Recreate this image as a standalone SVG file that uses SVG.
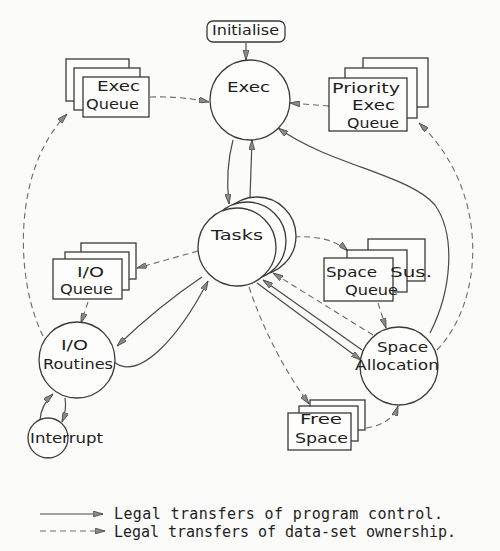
<svg xmlns="http://www.w3.org/2000/svg" width="500" height="551" viewBox="0 0 500 551">
<defs>
<style>
.bg{fill:#fbfbfa}
.nd{fill:#fdfdfc;stroke:#3a3a3a;stroke-width:1.3}
.lb{font-family:"DejaVu Sans","Liberation Sans",sans-serif;font-size:13.5px;fill:#1e1e1e}
.lg{font-family:"DejaVu Sans Mono","Liberation Mono",monospace;font-size:15px;fill:#1e1e1e}
.s{fill:none;stroke:#4a4a4a;stroke-width:1.2;marker-end:url(#a)}
.d{fill:none;stroke:#6a6a6a;stroke-width:1.1;stroke-dasharray:6 4;marker-end:url(#a)}
</style>
<marker id="a" viewBox="0 0 10 6" refX="10" refY="3" markerWidth="10" markerHeight="6" markerUnits="userSpaceOnUse" orient="auto">
<path d="M0,0 L10,3 L0,6 z" fill="#8a8a8a" stroke="#444" stroke-width="0.8"/>
</marker>
</defs>
<rect class="bg" x="0" y="0" width="500" height="551"/>

<g id="connectors">
<path class="s" d="M246,43 L246,60"/>
<path class="d" d="M150,97 Q180,96 209,102"/>
<path class="d" d="M329,106 L290,103"/>
<path class="s" d="M233,140 Q225,170 229,204"/>
<path class="s" d="M250,198 L252,140"/>
<path class="s" d="M430,333 C452,290 456,235 435,205 C410,175 330,165 278,128"/>
<path class="d" d="M43,336 C15,280 12,170 67,114"/>
<path class="d" d="M437,350 C485,300 490,190 419,123"/>
<path class="d" d="M198,251 L137,268"/>
<path class="d" d="M88,302 L81,323"/>
<path class="s" d="M202,277 Q160,305 117,346"/>
<path class="s" d="M114,362 C140,382 180,335 208,281"/>
<path class="d" d="M294,237 Q330,235 348,251"/>
<path class="d" d="M378,303 L386,328"/>
<path class="s" d="M362,350 L263,280"/>
<path class="s" d="M257,283 L361,360"/>
<path class="d" d="M373,335 L273,273"/>
<path class="d" d="M249,287 Q270,350 309,404"/>
<path class="d" d="M366,428 Q392,424 398,406"/>
<path class="s" d="M40,420 Q41,405 53,394"/>
<path class="s" d="M65,398 Q67,410 62,422"/>
<path class="s" d="M40,514 L103,514"/>
<path class="d" d="M40,531 L105,531"/>
</g>

<g id="initialise">
<rect class="nd" x="207" y="21" width="78" height="21" rx="6"/>
<text class="lb" x="212" y="35" textLength="67" lengthAdjust="spacingAndGlyphs">Initialise</text>
</g>

<g id="exec">
<circle class="nd" cx="250" cy="100" r="40"/>
<text class="lb" x="227" y="92" textLength="43" lengthAdjust="spacingAndGlyphs">Exec</text>
</g>

<g id="exec-queue">
<rect class="nd" x="66" y="59" width="63" height="42"/>
<rect class="nd" x="74" y="68" width="66" height="42"/>
<rect class="nd" x="83" y="77" width="66" height="40"/>
<text class="lb" x="97" y="91" textLength="43" lengthAdjust="spacingAndGlyphs">Exec</text>
<text class="lb" x="86" y="109" textLength="53" lengthAdjust="spacingAndGlyphs">Queue</text>
</g>

<g id="priority-exec-queue">
<rect class="nd" x="363" y="58" width="65" height="49"/>
<rect class="nd" x="345" y="68" width="72" height="50"/>
<rect class="nd" x="329" y="78" width="78" height="53"/>
<text class="lb" x="332" y="93" textLength="68" lengthAdjust="spacingAndGlyphs">Priority</text>
<text class="lb" x="352" y="110" textLength="43" lengthAdjust="spacingAndGlyphs">Exec</text>
<text class="lb" x="347" y="128" textLength="52" lengthAdjust="spacingAndGlyphs">Queue</text>
</g>

<g id="tasks">
<circle class="nd" cx="257" cy="236" r="39"/>
<circle class="nd" cx="247" cy="241" r="39"/>
<circle class="nd" cx="237" cy="247" r="39"/>
<text class="lb" x="211" y="240" textLength="52" lengthAdjust="spacingAndGlyphs">Tasks</text>
</g>

<g id="io-queue">
<rect class="nd" x="81" y="243" width="55" height="36"/>
<rect class="nd" x="65" y="252" width="64" height="38"/>
<rect class="nd" x="53" y="259" width="69" height="40"/>
<text class="lb" x="77" y="277" textLength="27" lengthAdjust="spacingAndGlyphs">I/O</text>
<text class="lb" x="60" y="294" textLength="53" lengthAdjust="spacingAndGlyphs">Queue</text>
</g>

<g id="io-routines">
<circle class="nd" cx="77" cy="360" r="38"/>
<text class="lb" x="61" y="350" textLength="27" lengthAdjust="spacingAndGlyphs">I/O</text>
<text class="lb" x="43" y="369" textLength="70" lengthAdjust="spacingAndGlyphs">Routines</text>
</g>

<g id="space-sus-queue">
<rect class="nd" x="368" y="239" width="57" height="42"/>
<rect class="nd" x="347" y="250" width="60" height="42"/>
<rect class="nd" x="324" y="258" width="69" height="43"/>
<text class="lb" x="326" y="277" textLength="51" lengthAdjust="spacingAndGlyphs">Space</text>
<text class="lb" x="390" y="277" textLength="42" lengthAdjust="spacingAndGlyphs">Sus.</text>
<text class="lb" x="345" y="295" textLength="53" lengthAdjust="spacingAndGlyphs">Queue</text>
</g>

<g id="space-allocation">
<circle class="nd" cx="399" cy="366" r="39"/>
<text class="lb" x="377" y="352" textLength="51" lengthAdjust="spacingAndGlyphs">Space</text>
<text class="lb" x="355" y="370" textLength="84" lengthAdjust="spacingAndGlyphs">Allocation</text>
</g>

<g id="free-space">
<rect class="nd" x="310" y="400" width="55" height="30"/>
<rect class="nd" x="299" y="406" width="59" height="35"/>
<rect class="nd" x="288" y="413" width="63" height="37"/>
<text class="lb" x="300" y="424" textLength="42" lengthAdjust="spacingAndGlyphs">Free</text>
<text class="lb" x="295" y="443" textLength="53" lengthAdjust="spacingAndGlyphs">Space</text>
</g>

<g id="interrupt">
<circle class="nd" cx="48" cy="438" r="20"/>
<text class="lb" x="30" y="443" textLength="73" lengthAdjust="spacingAndGlyphs">Interrupt</text>
</g>

<g id="legend">
<text class="lg" x="114" y="519" textLength="329" lengthAdjust="spacing">Legal transfers of program control.</text>
<text class="lg" x="114" y="537" textLength="342" lengthAdjust="spacing">Legal transfers of data-set ownership.</text>
</g>
</svg>
